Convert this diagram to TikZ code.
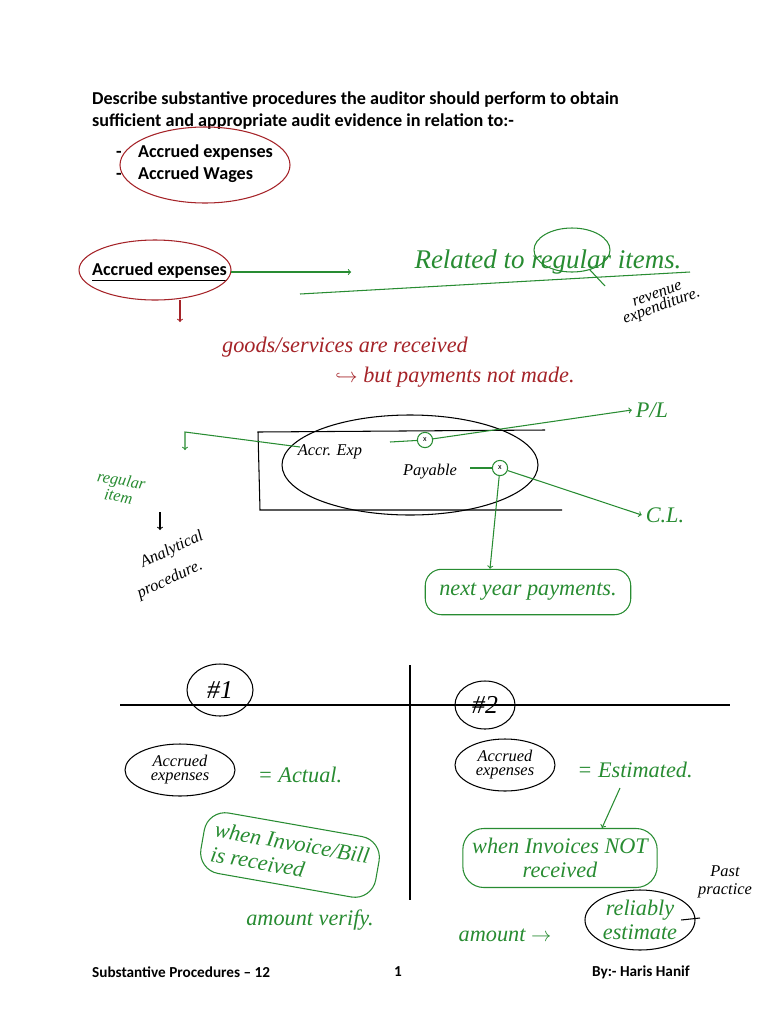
\documentclass[tikz,border=0pt]{standalone}
\usepackage{fontspec}
\setmainfont{Carlito}
\newfontfamily\handfont{Liberation Serif}
\usetikzlibrary{calc,positioning,shapes.geometric}
\definecolor{pengreen}{RGB}{40,140,50}
\definecolor{penred}{RGB}{165,35,40}
\tikzset{
  print/.style={anchor=west,font=\bfseries\fontsize{15.5}{18}\selectfont},
  hand/.style={font=\handfont\itshape\fontsize{19}{21}\selectfont,text=pengreen},
  handred/.style={font=\handfont\itshape\fontsize{19}{21}\selectfont,text=penred},
  handblack/.style={font=\handfont\itshape\fontsize{14}{15}\selectfont},
  greenline/.style={draw=pengreen,line width=0.9pt},
  redline/.style={draw=penred,line width=0.9pt}
}
\begin{document}
\begin{tikzpicture}[x=0.03cm,y=-0.03cm]
\useasboundingbox[fill=white] (0,0) rectangle (768,1024);

%question
\node[print] (q1) at (88,100) {Describe substantive procedures the auditor should perform to obtain};
\node[print] (q2) at (88,122) {sufficient and appropriate audit evidence in relation to:-};
\node[print] (b1) at (112,153) {-\hspace{14pt}Accrued expenses};
\node[print] (b2) at (112,175) {-\hspace{14pt}Accrued Wages};
\draw[redline] (205,165) ellipse (85 and 38);

%accrued expenses
\node[print] (acc) at (88,272) {\underline{Accrued expenses}};
\draw[redline] (155,270) ellipse (76 and 30);
\node[hand,font=\handfont\itshape\fontsize{23}{25}\selectfont] (rel) at (548,262) {Related to regular items.};
\draw[greenline] (572,250) ellipse (38 and 22);
\draw[greenline,->] (acc.east) -- ++(120,0);
\draw[greenline] (300,294) -- (690,272);
\node[handblack,rotate=20,align=center] (rev) at (660,302) {revenue\\[-4pt]expenditure.};
\draw[greenline] (590,270) -- (605,286);
\draw[redline,->] (180,300) -- (180,322);
\node[handred] (goods) at (345,347) {goods/services are received};
\node[handred] (paid) at (455,377) {$\hookrightarrow$ but payments not made.};

%accounts box
\draw[line width=0.9pt] (545,430) -- (258,432) -- (260,510) -- (562,510);
\draw[line width=0.9pt] (410,465) ellipse (128 and 50);
\node[handblack] (accr) at (330,452) {Accr. Exp};
\node[handblack] (pay) at (430,472) {Payable};
\node[greenline,circle,inner sep=3pt,font=\scriptsize] (x1) at (425,440) {x};
\node[greenline,circle,inner sep=3pt,font=\scriptsize] (x2) at (500,468) {x};
\draw[greenline] (390,442) -- (x1);
\draw[greenline] (470,468) -- (x2);
\node[hand] (pl) at (652,410) {P/L};
\node[hand] (cl) at (665,515) {C.L.};
\draw[greenline,->] (x1) -- (pl.west);
\draw[greenline,->] (x2) -- (cl.west);
\node[hand,draw=pengreen,line width=0.9pt,rounded corners=14pt,inner sep=12pt] (next) at (528,592) {next year payments.};
\draw[greenline,->] (x2) -- (next.north -| 490,0);
\coordinate (brk) at (185,432);
\draw[greenline,->] (300,447) -- (brk) -- (185,450);
\node[hand,font=\handfont\itshape\fontsize{14}{14}\selectfont,align=center,rotate=-10] (reg) at (120,488) {regular\\item};
\draw[->,line width=0.9pt] (160,512) -- (160,530);
\node[handblack,rotate=25] (ana1) at (172,550) {Analytical};
\node[handblack,rotate=25] (ana2) at (170,580) {procedure.};

%two cases
\draw[line width=0.9pt] (120,705) -- (730,705);
\draw[line width=0.9pt] (410,665) -- (410,900);
\node[handblack,font=\handfont\itshape\fontsize{22}{22}\selectfont] (c1) at (220,690) {\#1};
\draw[line width=0.9pt] (c1) ellipse (33 and 26);
\node[handblack,font=\handfont\itshape\fontsize{22}{22}\selectfont] (c2) at (485,705) {\#2};
\draw[line width=0.9pt] (c2) ellipse (30 and 24);

\node[handblack,align=center] (ae1) at (180,770) {Accrued\\[-3pt]expenses};
\draw[line width=0.9pt] (ae1) ellipse (55 and 26);
\node[hand] (act) at (300,775) {= Actual.};
\node[hand,draw=pengreen,line width=0.9pt,rounded corners=18pt,rotate=-10,align=left,inner sep=9pt] (inv) at (290,855) {when Invoice/Bill\\is received};
\node[hand] (amt1) at (310,920) {amount verify.};

\node[handblack,align=center] (ae2) at (505,765) {Accrued\\[-3pt]expenses};
\draw[line width=0.9pt] (ae2) ellipse (50 and 26);
\node[hand] (est) at (635,770) {= Estimated.};
\node[hand,draw=pengreen,line width=0.9pt,rounded corners=18pt,align=center,inner sep=8pt] (nin) at (560,858) {when Invoices NOT\\received};
\draw[greenline,->] (620,788) -- (nin.north -| 602,0);
\node[hand] (amt2) at (505,935) {amount $\rightarrow$};
\node[hand,align=center] (rel2) at (640,920) {reliably\\estimate};
\draw[line width=0.9pt] (rel2) ellipse (55 and 30);
\node[handblack,align=center] (past) at (725,882) {Past\\practice};
\draw[line width=0.9pt] (700,918) -- (rel2.east);

%footer
\node[print,font=\bfseries\fontsize{13}{15}\selectfont] (f1) at (88,972) {Substantive Procedures -- 12};
\node[font=\bfseries\fontsize{13}{15}\selectfont] (f2) at (398,972) {1};
\node[print,font=\bfseries\fontsize{13}{15}\selectfont] (f3) at (588,972) {By:- Haris Hanif};
\end{tikzpicture}
\end{document}
